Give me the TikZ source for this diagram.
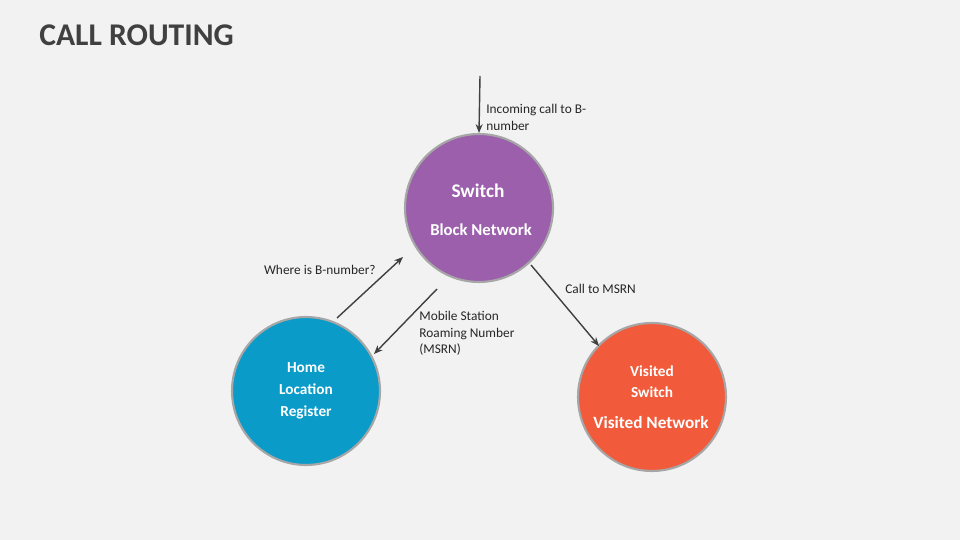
\documentclass[tikz,border=0pt]{standalone}
\usepackage{fontspec}
\setmainfont{Carlito}
\usetikzlibrary{arrows.meta, positioning}
\definecolor{bg}{HTML}{F2F2F2}
\definecolor{titlegray}{HTML}{404040}
\definecolor{swpurple}{HTML}{9B5FAC}
\definecolor{hlrblue}{HTML}{0A9BC9}
\definecolor{visorange}{HTML}{F15B3B}
\begin{document}
\begin{tikzpicture}[x=0.02cm, y=-0.02cm,
    hub/.style={circle, minimum size=2.96cm, inner sep=0pt, draw=black!35, line width=1.2pt, text=white, font=\bfseries, align=center},
    lbl/.style={font=\fontsize{7.6}{9.4}\selectfont, text=black!85, align=left, inner sep=0pt},
    arrow/.style={-{Stealth[length=5pt, width=4pt]}, line width=0.8pt, draw=black!75}
]
\fill[bg] (0,0) rectangle (960,540);
\useasboundingbox (0,0) rectangle (960,540);

% Title
\node[anchor=west, font=\fontsize{18}{20}\selectfont\bfseries, text=titlegray, inner sep=0pt] (title) at (39,35) {CALL ROUTING};

% Nodes
\node[hub, fill=swpurple] (sw) at (479,208) {};
\node[font=\fontsize{11}{13}\selectfont\bfseries, text=white] (swname) at (478,191) {Switch};
\node[font=\fontsize{9.5}{11}\selectfont\bfseries, text=white] (swnet) at (481,230) {Block Network};
\node[hub, fill=hlrblue, font=\fontsize{8.7}{12.5}\selectfont\bfseries] (hlr) at (306,391) {Home\\Location\\Register};
\node[hub, fill=visorange] (vis) at (652,397) {};
\node[font=\fontsize{8.7}{12}\selectfont\bfseries, text=white, align=center] (visname) at (652,382) {Visited\\Switch};
\node[font=\fontsize{9.8}{11}\selectfont\bfseries, text=white] (visnet) at (651,423) {Visited Network};

% Arrow ends
\coordinate (in) at (480,76);
\coordinate (q1) at (337,318);
\coordinate (q2) at (403,257);
\coordinate (r1) at (437,289);
\coordinate (r2) at (374,354);
\coordinate (c1) at (531,265);
\coordinate (c2) at (599,346);

% Arrows
\draw[arrow] (in) -- (sw.north);
\draw[arrow] (q1) -- (q2);
\draw[arrow] (r1) -- (r2);
\draw[arrow] (c1) -- (c2);

% Labels
\node[lbl, anchor=north west] (inlbl) at (486,104) {Incoming call to B-\\number};
\node[lbl, anchor=east] (qlbl) at (376,270) {Where is B-number?};
\node[lbl, anchor=north west] (rlbl) at (419,311) {Mobile Station\\Roaming Number\\(MSRN)};
\node[lbl, anchor=west] (clbl) at (565,289) {Call to MSRN};
\end{tikzpicture}
\end{document}
